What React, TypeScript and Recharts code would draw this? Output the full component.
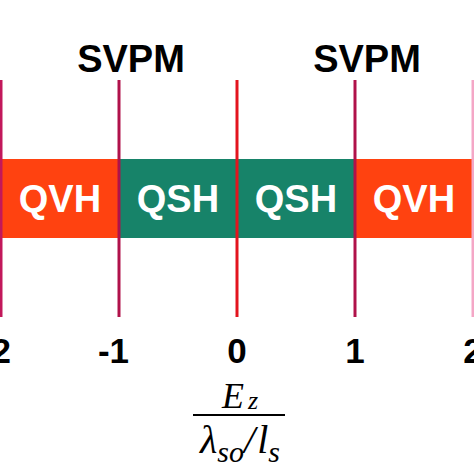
import React from 'react';
import { ComposedChart, XAxis, YAxis, ReferenceArea, ReferenceLine, Label } from 'recharts';

// ---- data ----
const ticks = [-2, -1, 0, 1, 2];
const boundaries = [-2, -1, 0, 1, 2];
const phaseNames = ['QVH', 'QSH', 'QSH', 'QVH'];
const phaseStart = [-2, -1, 0, 1];
const phaseEnd = [-1, 0, 1, 2];
const svpmAt = [-1, 1];
const svpmText = 'SVPM';
const bandLow = 1;
const bandHigh = 2;
const yDomain: [number, number] = [0, 3];

// ---- styles ----
const lineColors = ['#C2185B', '#B0124A', '#E3141E', '#B0124A', '#F4A7C6'];
const phaseColors: Record<string, string> = { QVH: '#FF4210', QSH: '#178369' };
const sans = "'Liberation Sans', Arial, sans-serif";
const serif = "'Liberation Serif', 'Times New Roman', serif";

const chartData = ticks.map((x) => ({ x }));

const SvpmLabel = (props: any) => {
  const vb = props.viewBox || {};
  return (
    <text
      x={vb.x + 12}
      y={vb.y - 8}
      textAnchor="middle"
      fontFamily={sans}
      fontWeight="bold"
      fontSize={38}
      fill="#000"
    >
      {svpmText}
    </text>
  );
};

const TickLabel = (props: any) => {
  const { x, y, payload } = props;
  const v = payload.value;
  const neg = v < 0;
  return (
    <text
      x={neg ? x + 10 : x}
      y={y}
      dy="0.71em"
      textAnchor={neg ? 'end' : 'middle'}
      fontFamily={sans}
      fontWeight="bold"
      fontSize={35}
      fill="#000"
    >
      {String(v)}
    </text>
  );
};

const FractionLabel = (props: any) => {
  const vb = props.viewBox || {};
  const cx = vb.x + vb.width / 2 + 3;
  const top = vb.y;
  return (
    <g fontFamily={serif} fontStyle="italic" fill="#000">
      <text x={cx - 18} y={top + 91} textAnchor="start">
        <tspan fontSize={36}>E</tspan>
        <tspan fontSize={26} dx={4} dy={1}>z</tspan>
      </text>
      <line x1={cx - 47} x2={cx + 45} y1={top + 98} y2={top + 98} stroke="#000" strokeWidth={1.8} />
      <text x={cx - 40} y={top + 136} textAnchor="start">
        <tspan fontSize={40}>λ</tspan>
        <tspan fontSize={30} dy={9}>so</tspan>
        <tspan fontSize={40} dy={-9}>/</tspan>
        <tspan fontSize={40} dx={2}>l</tspan>
        <tspan fontSize={30} dy={9}>s</tspan>
      </text>
    </g>
  );
};

export default function App() {
  return (
    <div style={{ position: 'absolute', left: 0, top: 0, width: 474, height: 474, background: '#fff' }}>
      <ComposedChart
        width={474}
        height={474}
        data={chartData}
        margin={{ top: 80, right: 1, bottom: 0, left: 1 }}
      >
        <XAxis
          dataKey="x"
          type="number"
          domain={[-2, 2]}
          ticks={ticks}
          allowDataOverflow
          axisLine={false}
          tickLine={false}
          tickSize={0}
          tickMargin={21}
          height={157}
          interval={0}
          tick={<TickLabel />}
        >
          <Label content={<FractionLabel />} />
        </XAxis>
        <YAxis type="number" domain={yDomain} hide allowDataOverflow />
        {phaseNames.map((name, i) => (
          <ReferenceArea
            key={'a' + i}
            x1={phaseStart[i]}
            x2={phaseEnd[i]}
            y1={bandLow}
            y2={bandHigh}
            fill={phaseColors[name]}
            fillOpacity={1}
            stroke="none"
            ifOverflow="visible"
            label={{
              value: name,
              position: 'center',
              fill: '#fff',
              fontSize: 38,
              fontWeight: 'bold',
              fontFamily: sans,
            }}
          />
        ))}
        {boundaries.map((b, i) => (
          <ReferenceLine
            key={'l' + i}
            x={b}
            stroke={lineColors[i]}
            strokeWidth={3}
            ifOverflow="visible"
            label={svpmAt.includes(b) ? <SvpmLabel /> : undefined}
          />
        ))}
      </ComposedChart>
    </div>
  );
}
